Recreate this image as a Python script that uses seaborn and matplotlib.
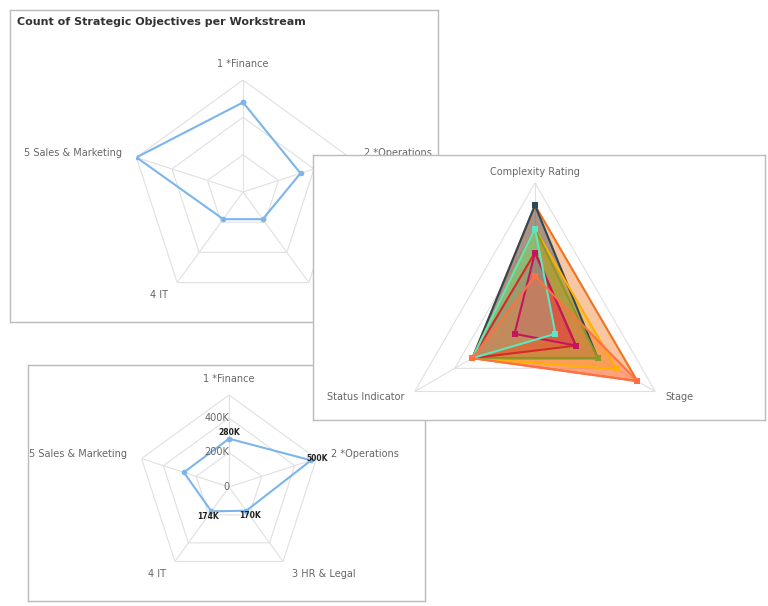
import numpy as np
import matplotlib
matplotlib.use("Agg")
import matplotlib.pyplot as plt
import seaborn as sns
import pandas as pd

sns.set_theme(style="white")
plt.rcParams['font.family'] = ['DejaVu Sans']

# ---- data ----
ws_labels = ["1 *Finance", "2 *Operations", "3 HR & Legal", "4 IT", "5 Sales & Marketing"]
ws_counts = [4.0, 2.7, 1.5, 1.5, 5.0]
count_max = 5.0

tri_labels = ["Complexity Rating", "Stage", "Status Indicator"]
tri_series = ["A", "B", "C", "D", "E", "F", "G", "H"]
tri_colors = ["#f2711c", "#2f4858", "#ffb000", "#8a9a2a", "#d62828", "#c2185b", "#5ee6c0", "#ff7043"]
tri_complexity = [0.84, 0.84, 0.67, 0.67, 0.50, 0.50, 0.67, 0.33]
tri_stage =      [0.85, 0.52, 0.68, 0.52, 0.34, 0.34, 0.17, 0.85]
tri_status =     [0.52, 0.52, 0.52, 0.52, 0.52, 0.17, 0.52, 0.52]

ws_values_k = [280, 500, 170, 174, 275]
value_max_k = 533
value_ticks_k = [0, 200, 400]

W, H = 768, 606
fig = plt.figure(figsize=(7.68, 6.06), dpi=100)
GRID = "#e0e0e0"
LAB = "#666666"

def panel(x0, y0, x1, y1, z):
    ax = fig.add_axes([x0 / W, 1 - y1 / H, (x1 - x0) / W, (y1 - y0) / H], zorder=z)
    ax.set_xticks([]); ax.set_yticks([])
    ax.set_facecolor("white")
    for s in ax.spines.values():
        s.set_color("#bbbbbb"); s.set_linewidth(1)
    return ax

def polar(cx, cy, r, z):
    ax = fig.add_axes([(cx - r) / W, 1 - (cy + r) / H, 2 * r / W, 2 * r / H],
                      projection="polar", zorder=z)
    ax.set_theta_zero_location("N"); ax.set_theta_direction(-1)
    ax.axis("off"); ax.patch.set_alpha(0)
    return ax

def grid(ax, n, rings, rmax):
    th = np.linspace(0, 2 * np.pi, n + 1)
    for rr in rings:
        ax.plot(th, [rr] * (n + 1), color=GRID, lw=0.8, zorder=0)
    for t in th[:-1]:
        ax.plot([t, t], [0, rmax], color=GRID, lw=0.8, zorder=0)
    ax.set_ylim(0, rmax)

def labels(ax, labs, rpos, rmax, fs=7):
    n = len(labs)
    for i, l in enumerate(labs):
        t = 2 * np.pi * i / n
        s = np.sin(t)
        ha = "center" if abs(s) < 0.2 else ("left" if s > 0 else "right")
        ax.text(t, rmax * rpos, l, ha=ha, va="center", fontsize=fs, color=LAB)

def closed_df(vals, n):
    th = list(2 * np.pi * np.arange(n) / n) + [2 * np.pi]
    return pd.DataFrame({"theta": th, "r": list(vals) + [vals[0]]})

def line(ax, d, c, marker):
    sns.lineplot(data=d, x="theta", y="r", sort=False, estimator=None, ax=ax, color=c, lw=1.5,
                 marker=marker, markersize=4, markeredgewidth=0)

# ---- panel 1 ----
p1 = panel(10, 10, 438, 322, 1)
p1.text(7 / 428, 1 - 12 / 312, "Count of Strategic Objectives per Workstream",
        transform=p1.transAxes, fontsize=8, fontweight="bold", color="#333333", va="center")
a1 = polar(243, 192, 112, 2)
grid(a1, 5, [count_max / 3, 2 * count_max / 3, count_max], count_max)
line(a1, closed_df(ws_counts, 5), "#7cb5ec", "o")
labels(a1, ws_labels, 1.14, count_max)
a1.set_ylim(0, count_max)

# ---- panel 3 ----
p3 = panel(28, 365, 425, 601, 3)
a3 = polar(229, 487, 92, 4)
grid(a3, 5, [200, 400, value_max_k], value_max_k)
line(a3, closed_df(ws_values_k, 5), "#7cb5ec", "o")
for v in value_ticks_k:
    a3.text(0, v, f"{v}K" if v else "0", ha="right", va="center", fontsize=7, color=LAB)
for i, v in enumerate(ws_values_k):
    if i == 4:
        continue
    a3.text(2 * np.pi * i / 5, v + 35, f"{v}K", ha="center", va="center",
            fontsize=5.5, fontweight="bold", color="#222222")
labels(a3, ws_labels, 1.17, value_max_k)
a3.set_ylim(0, value_max_k)

# ---- panel 2 ----
p2 = panel(313, 155, 765, 420, 5)
a2 = polar(535, 322, 139, 6)
grid(a2, 3, [1 / 3, 2 / 3, 1], 1)
for i, c in enumerate(tri_colors):
    vals = [tri_complexity[i], tri_stage[i], tri_status[i]]
    d = closed_df(vals, 3)
    a2.fill(d["theta"], d["r"], color=c, alpha=0.4, lw=0)
    line(a2, d, c, "s")
labels(a2, tri_labels, 1.08, 1)
a2.set_ylim(0, 1)

fig.savefig("out.png", dpi=100)
